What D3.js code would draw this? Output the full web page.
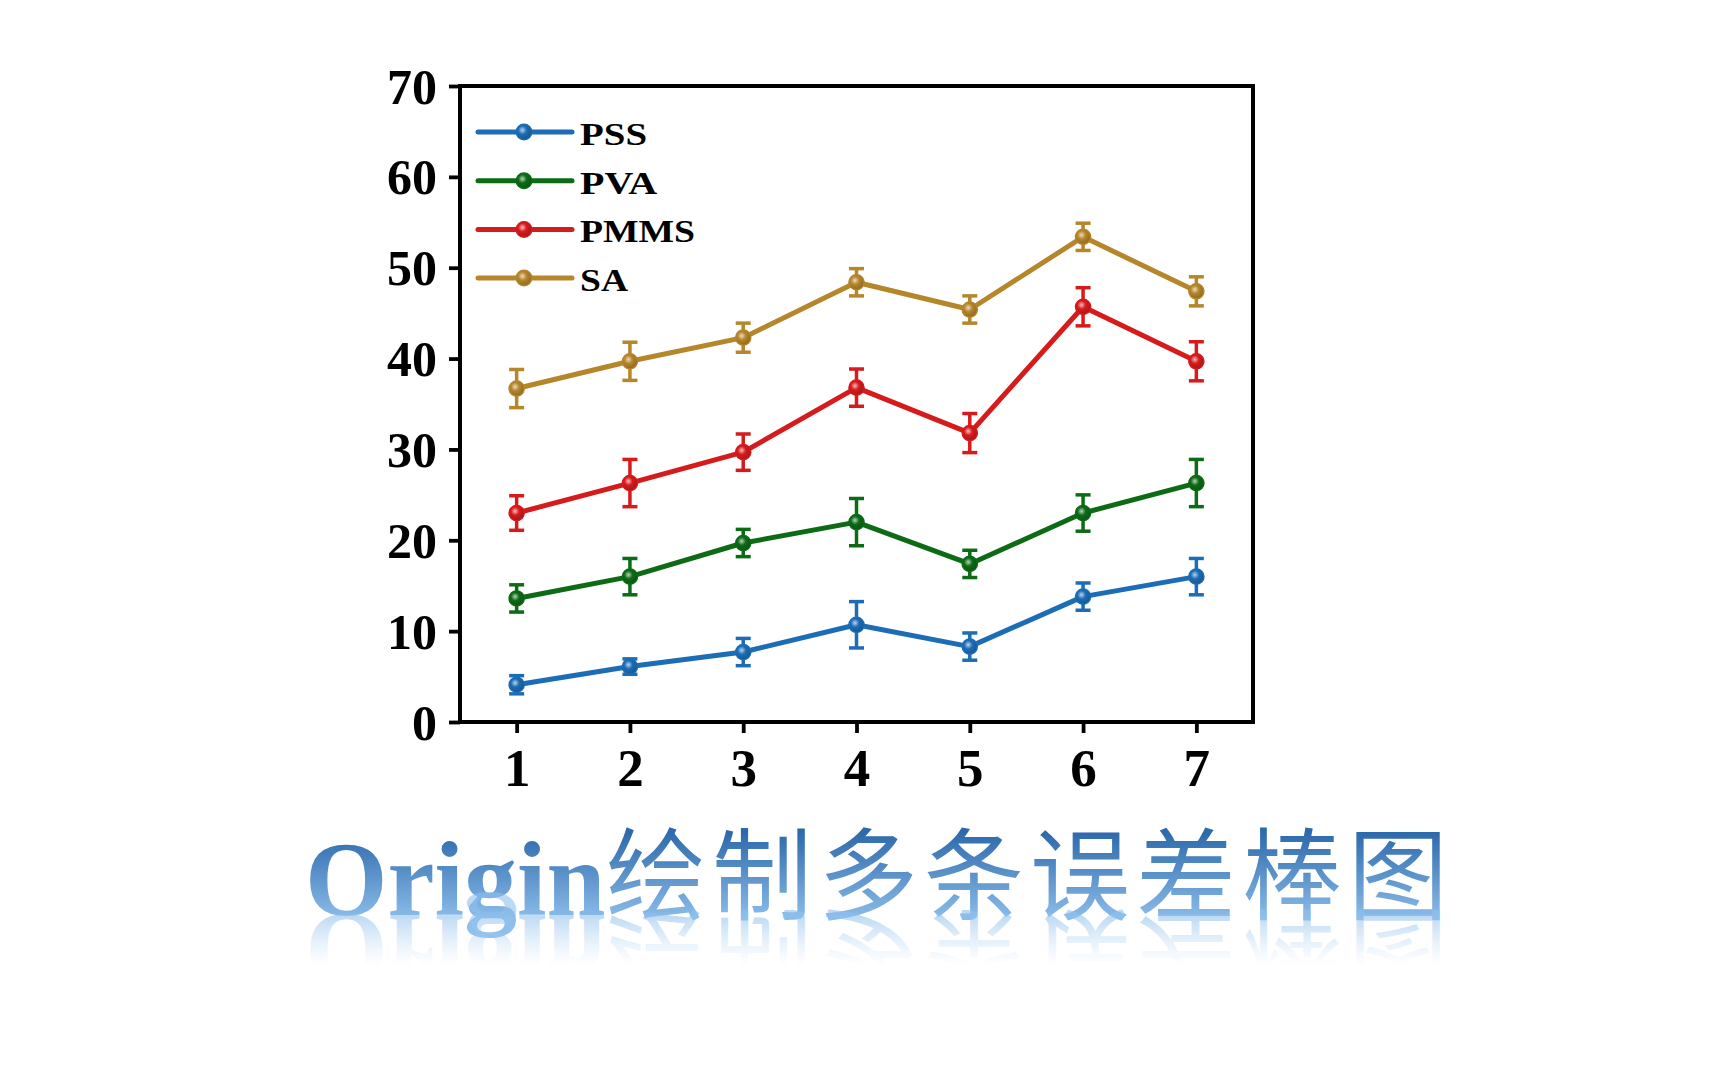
<!DOCTYPE html>
<html>
<head>
<meta charset="utf-8">
<script src="https://cdn.jsdelivr.net/npm/d3@7"></script>
<style>
  html, body { margin: 0; padding: 0; background: #ffffff; }
  svg { display: block; }
</style>
</head>
<body>
<svg id="chart" width="1728" height="1080"></svg>
<script>
// ---- data ----
const categories = [1, 2, 3, 4, 5, 6, 7];
const yTicks = [0, 10, 20, 30, 40, 50, 60, 70];
const seriesNames = ["PSS", "PVA", "PMMS", "SA"];
const seriesColors = ["#1c6db6", "#0d6b16", "#d61b1d", "#b5862a"];
const pssValues  = [4.1, 6.1, 7.7, 10.7, 8.3, 13.8, 16.0];
const pssErrors  = [1.0, 0.85, 1.5, 2.55, 1.5, 1.5, 2.0];
const pvaValues  = [13.6, 16.0, 19.7, 22.0, 17.4, 23.0, 26.3];
const pvaErrors  = [1.5, 2.0, 1.5, 2.6, 1.5, 2.0, 2.6];
const pmmsValues = [23.0, 26.3, 29.7, 36.8, 31.8, 45.7, 39.7];
const pmmsErrors = [1.9, 2.6, 2.0, 2.05, 2.15, 2.1, 2.15];
const saValues   = [36.7, 39.7, 42.3, 48.4, 45.4, 53.4, 47.4];
const saErrors   = [2.1, 2.1, 1.6, 1.5, 1.5, 1.5, 1.6];
const titleLatin = "Origin";
const titleCJK = "绘制多条误差棒图";

const seriesValues = [pssValues, pvaValues, pmmsValues, saValues];
const seriesErrors = [pssErrors, pvaErrors, pmmsErrors, saErrors];

// ---- layout ----
const svg = d3.select("#chart");
const plotLeft = 460, plotRight = 1253, plotTop = 86, plotBottom = 722;
const x = d3.scaleLinear().domain([0.5, 7.5]).range([plotLeft, plotRight]);
const y = d3.scaleLinear().domain([0, 70]).range([plotBottom, plotTop]);
const serif = "'Liberation Serif', 'Times New Roman', serif";

const defs = svg.append("defs");
seriesColors.forEach((c, i) => {
  const g = defs.append("radialGradient").attr("id", "ball" + i)
    .attr("cx", "40%").attr("cy", "38%").attr("r", "60%");
  g.append("stop").attr("offset", "0%").attr("stop-color", d3.interpolateRgb(c, "#ffffff")(0.7));
  g.append("stop").attr("offset", "45%").attr("stop-color", c);
  g.append("stop").attr("offset", "100%").attr("stop-color", d3.color(c).darker(0.6));
});

// ---- axes ----
const yAxis = d3.axisLeft(y).tickValues(yTicks).tickSize(11).tickSizeOuter(0).tickPadding(12)
  .tickFormat(d3.format("d"));
const yg = svg.append("g").attr("transform", `translate(${plotLeft},0)`).call(yAxis);
yg.select(".domain").remove();
yg.selectAll(".tick line").attr("stroke", "#000").attr("stroke-width", 3.8);
yg.selectAll(".tick text").attr("font-family", serif).attr("font-weight", "bold")
  .attr("font-size", 50).attr("fill", "#000").attr("dy", "0.34em");

const xAxis = d3.axisBottom(x).tickValues(categories).tickSize(11).tickSizeOuter(0)
  .tickFormat(d3.format("d"));
const xg = svg.append("g").attr("transform", `translate(0,${plotBottom})`).call(xAxis);
xg.select(".domain").remove();
xg.selectAll(".tick line").attr("stroke", "#000").attr("stroke-width", 3.8);
xg.selectAll(".tick text").attr("font-family", serif).attr("font-weight", "bold")
  .attr("font-size", 53).attr("fill", "#000").attr("y", 64).attr("dy", 0);

// frame
svg.append("rect").attr("x", plotLeft).attr("y", plotTop)
  .attr("width", plotRight - plotLeft).attr("height", plotBottom - plotTop)
  .attr("fill", "none").attr("stroke", "#000").attr("stroke-width", 4);

// ---- series ----
const line = d3.line().x((d, i) => x(categories[i])).y(d => y(d));
seriesValues.forEach((vals, s) => {
  const col = seriesColors[s];
  const g = svg.append("g");
  g.append("path").datum(vals).attr("d", line)
    .attr("fill", "none").attr("stroke", col).attr("stroke-width", 5)
    .attr("stroke-linejoin", "round");
  const pts = vals.map((v, i) => ({ c: categories[i], v, e: seriesErrors[s][i] }));
  const eb = g.selectAll(".eb").data(pts).enter().append("g");
  eb.append("line").attr("x1", d => x(d.c)).attr("x2", d => x(d.c))
    .attr("y1", d => y(d.v - d.e)).attr("y2", d => y(d.v + d.e))
    .attr("stroke", col).attr("stroke-width", 3.5);
  eb.append("line").attr("x1", d => x(d.c) - 7.5).attr("x2", d => x(d.c) + 7.5)
    .attr("y1", d => y(d.v + d.e)).attr("y2", d => y(d.v + d.e))
    .attr("stroke", col).attr("stroke-width", 3.5);
  eb.append("line").attr("x1", d => x(d.c) - 7.5).attr("x2", d => x(d.c) + 7.5)
    .attr("y1", d => y(d.v - d.e)).attr("y2", d => y(d.v - d.e))
    .attr("stroke", col).attr("stroke-width", 3.5);
  g.selectAll(".mk").data(pts).enter().append("circle")
    .attr("cx", d => x(d.c)).attr("cy", d => y(d.v)).attr("r", 7.6)
    .attr("fill", `url(#ball${s})`).attr("stroke", col).attr("stroke-width", 1.4);
});

// ---- legend ----
const legendWidths = [67, 77, 115, 48];
const lg = svg.append("g");
seriesNames.forEach((name, i) => {
  const ly = 132 + i * 48.7;
  lg.append("line").attr("x1", 478).attr("x2", 572).attr("y1", ly).attr("y2", ly)
    .attr("stroke", seriesColors[i]).attr("stroke-width", 5).attr("stroke-linecap", "round");
  lg.append("circle").attr("cx", 524).attr("cy", ly).attr("r", 7.8)
    .attr("fill", `url(#ball${i})`).attr("stroke", seriesColors[i]).attr("stroke-width", 1.4);
  lg.append("text").attr("x", 580).attr("y", ly + 13)
    .attr("font-family", serif).attr("font-weight", "bold").attr("font-size", 32)
    .attr("textLength", legendWidths[i]).attr("lengthAdjust", "spacingAndGlyphs")
    .attr("fill", "#000").text(name);
});

// ---- title with gradient and reflection ----
const base = 915;
const tg = defs.append("linearGradient").attr("id", "titleGrad")
  .attr("gradientUnits", "userSpaceOnUse").attr("x1", 0).attr("x2", 0).attr("y1", 832).attr("y2", 922);
tg.append("stop").attr("offset", "0%").attr("stop-color", "#2d69ab");
tg.append("stop").attr("offset", "100%").attr("stop-color", "#8fc0ec");
const rg = defs.append("linearGradient").attr("id", "reflGrad")
  .attr("gradientUnits", "userSpaceOnUse").attr("x1", 0).attr("x2", 0).attr("y1", base).attr("y2", base - 50);
rg.append("stop").attr("offset", "0%").attr("stop-color", "#8fc0ec").attr("stop-opacity", 0.6);
rg.append("stop").attr("offset", "100%").attr("stop-color", "#b8d8f4").attr("stop-opacity", 0);

// title texts defined once, then shown twice (upright + mirrored) with <use>
const titleDef = defs.append("g").attr("id", "titleTexts");
titleDef.append("text").attr("x", 305).attr("y", base)
  .attr("font-family", serif).attr("font-weight", "bold").attr("font-size", 106)
  .text(titleLatin);
titleDef.append("text").attr("x", 606).attr("y", base - 3)
  .attr("font-family", "'Noto Sans CJK SC', sans-serif").attr("font-weight", 400).attr("font-size", 100)
  .attr("textLength", 842).attr("lengthAdjust", "spacing")
  .text(titleCJK);
svg.append("use").attr("href", "#titleTexts").attr("fill", "url(#titleGrad)");
svg.append("use").attr("href", "#titleTexts").attr("fill", "url(#reflGrad)")
  .attr("transform", `translate(0,${2 * base}) scale(1,-1)`);
</script>
</body>
</html>
